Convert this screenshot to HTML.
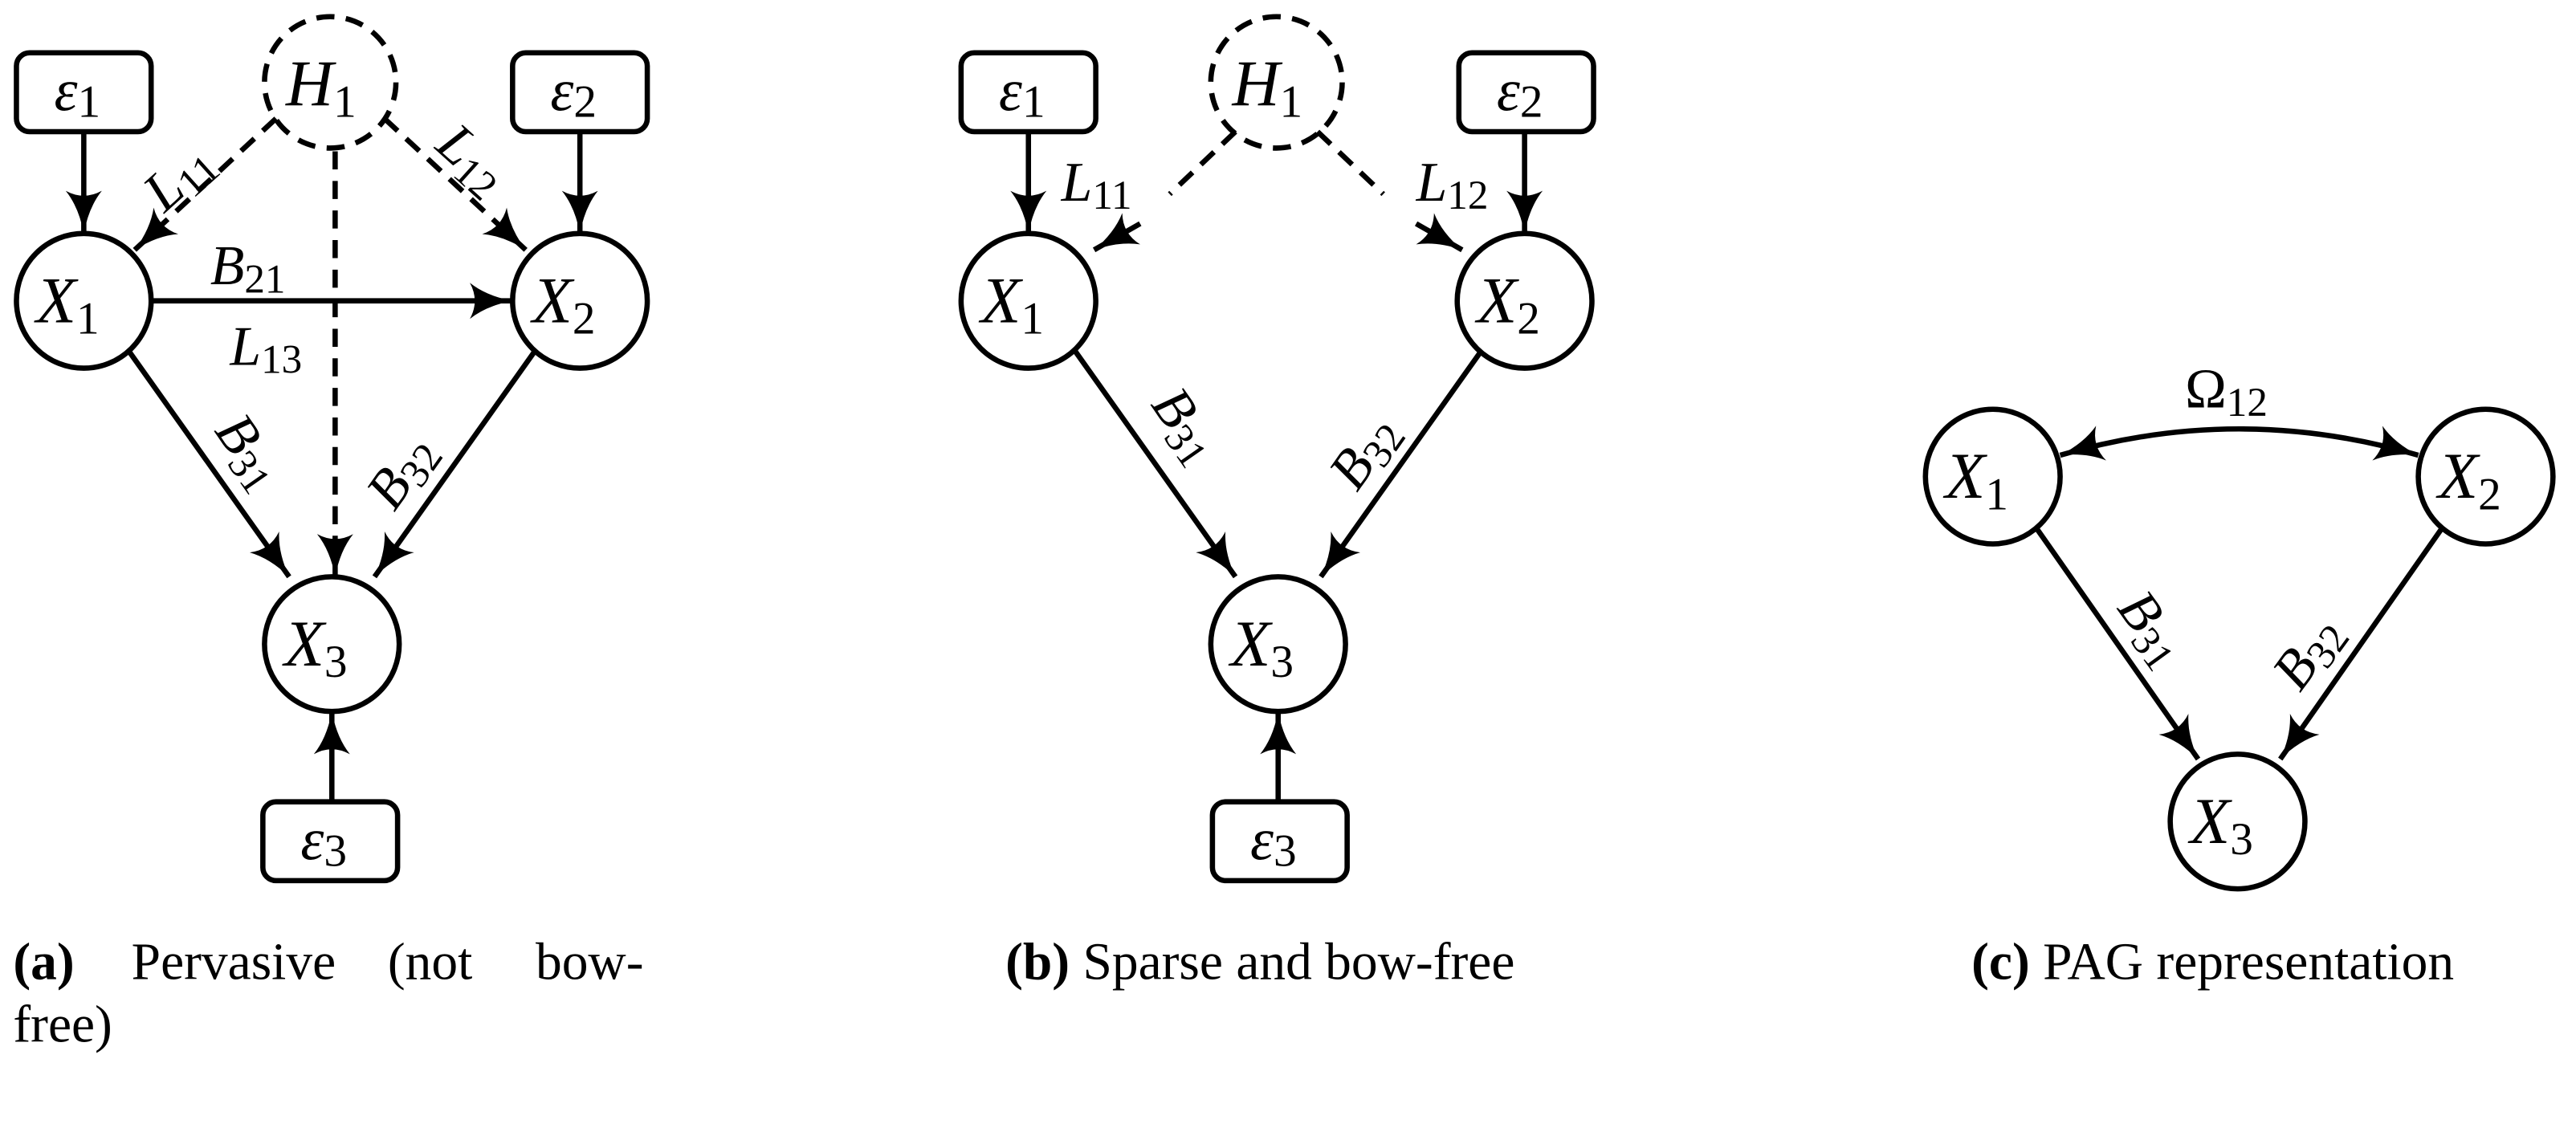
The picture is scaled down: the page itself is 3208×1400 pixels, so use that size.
<!DOCTYPE html>
<html><head><meta charset="utf-8"><style>
html,body{margin:0;padding:0;background:#fff;}
svg{display:block;}
.m{font-family:"Liberation Serif",serif;font-style:italic;font-size:40px;}
.s{font-family:"Liberation Serif",serif;font-style:normal;font-size:28px;}
.e{font-family:"Liberation Serif",serif;font-style:italic;font-size:36px;}
.l{font-family:"Liberation Serif",serif;font-style:italic;font-size:34px;}
.ls{font-family:"Liberation Serif",serif;font-style:normal;font-size:25px;}
.cap{font-family:"Liberation Serif",serif;font-size:32px;}
</style></head><body>
<svg width="3208" height="1400" viewBox="0 0 1568 684" xmlns="http://www.w3.org/2000/svg">
<defs>
<marker id="a" markerUnits="userSpaceOnUse" markerWidth="28" markerHeight="22" refX="26" refY="11" orient="auto">
<path d="M0,0 Q10,8 26,11 Q10,14 0,22 Q6,11 0,0 z" fill="#000"/>
</marker>
<marker id="as" markerUnits="userSpaceOnUse" markerWidth="28" markerHeight="22" refX="0" refY="11" orient="auto">
<path d="M26,0 Q16,8 0,11 Q16,14 26,22 Q20,11 26,0 z" fill="#000"/>
</marker>
</defs>
<g fill="none" stroke="#000" stroke-width="3.2">
<rect x="10" y="32" width="82" height="48" rx="8"/>
<rect x="312" y="32" width="82" height="48" rx="8"/>
<rect x="160" y="488" width="82" height="48" rx="8"/>
<circle cx="201" cy="50" r="40" stroke-dasharray="11,7"/>
<circle cx="51" cy="183" r="41"/>
<circle cx="353" cy="183" r="41"/>
<circle cx="202" cy="392" r="41"/>
<line x1="51" y1="80" x2="51" y2="142" marker-end="url(#a)"/>
<line x1="353" y1="80" x2="353" y2="142" marker-end="url(#a)"/>
<line x1="202" y1="488" x2="202" y2="433" marker-end="url(#a)"/>
<line x1="92" y1="183" x2="312" y2="183" marker-end="url(#a)"/>
<line x1="78" y1="213" x2="176" y2="351" marker-end="url(#a)"/>
<line x1="326" y1="213" x2="228" y2="351" marker-end="url(#a)"/>
<line x1="168" y1="72" x2="82" y2="152" stroke-dasharray="11,7" marker-end="url(#a)"/>
<line x1="234" y1="72" x2="320" y2="152" stroke-dasharray="11,7" marker-end="url(#a)"/>
<line x1="204" y1="92" x2="204" y2="351" stroke-dasharray="11,7" marker-end="url(#a)"/>
<rect x="585" y="32" width="82" height="48" rx="8"/>
<rect x="888" y="32" width="82" height="48" rx="8"/>
<rect x="738" y="488" width="82" height="48" rx="8"/>
<circle cx="777" cy="50" r="40" stroke-dasharray="11,7"/>
<circle cx="626" cy="183" r="41"/>
<circle cx="928" cy="183" r="41"/>
<circle cx="778" cy="392" r="41"/>
<line x1="626" y1="80" x2="626" y2="142" marker-end="url(#a)"/>
<line x1="928" y1="80" x2="928" y2="142" marker-end="url(#a)"/>
<line x1="778" y1="488" x2="778" y2="433" marker-end="url(#a)"/>
<line x1="654" y1="213" x2="752" y2="351" marker-end="url(#a)"/>
<line x1="902" y1="213" x2="804" y2="351" marker-end="url(#a)"/>
<line x1="752" y1="80" x2="712" y2="118" stroke-dasharray="11,7"/>
<line x1="802" y1="80" x2="842" y2="118" stroke-dasharray="11,7"/>
<path d="M694,136 L666,152" marker-end="url(#a)"/>
<path d="M862,136 L890,152" marker-end="url(#a)"/>
<circle cx="1213" cy="290" r="41"/>
<circle cx="1513" cy="290" r="41"/>
<circle cx="1362" cy="500" r="41"/>
<path d="M1254,277 Q1363,245 1472,277" marker-start="url(#as)" marker-end="url(#a)"/>
<line x1="1240" y1="322" x2="1338" y2="462" marker-end="url(#a)"/>
<line x1="1486" y1="322" x2="1388" y2="462" marker-end="url(#a)"/>
</g>
<g fill="#000">
<text x="33" y="67" class="e">ε<tspan class="s" dy="4">1</tspan></text>
<text x="335" y="67" class="e">ε<tspan class="s" dy="4">2</tspan></text>
<text x="183" y="523" class="e">ε<tspan class="s" dy="4">3</tspan></text>
<text x="174" y="64" class="m">H<tspan class="s" dy="7">1</tspan></text>
<text x="22" y="196" class="m">X<tspan class="s" dy="7">1</tspan></text>
<text x="324" y="196" class="m">X<tspan class="s" dy="7">2</tspan></text>
<text x="173" y="405" class="m">X<tspan class="s" dy="7">3</tspan></text>
<text x="128" y="173" class="l">B<tspan class="ls" dy="5">21</tspan></text>
<text x="140" y="222" class="l">L<tspan class="ls" dy="5">13</tspan></text>
<text class="l" transform="translate(100,130) rotate(-42)">L<tspan class="ls" dy="5">11</tspan></text>
<text class="l" transform="translate(264,90) rotate(42)">L<tspan class="ls" dy="5">12</tspan></text>
<text class="l" transform="translate(130,262) rotate(55)">B<tspan class="ls" dy="5">31</tspan></text>
<text class="l" transform="translate(240,312) rotate(-55)">B<tspan class="ls" dy="5">32</tspan></text>
<text x="608" y="67" class="e">ε<tspan class="s" dy="4">1</tspan></text>
<text x="911" y="67" class="e">ε<tspan class="s" dy="4">2</tspan></text>
<text x="761" y="523" class="e">ε<tspan class="s" dy="4">3</tspan></text>
<text x="750" y="64" class="m">H<tspan class="s" dy="7">1</tspan></text>
<text x="597" y="196" class="m">X<tspan class="s" dy="7">1</tspan></text>
<text x="899" y="196" class="m">X<tspan class="s" dy="7">2</tspan></text>
<text x="749" y="405" class="m">X<tspan class="s" dy="7">3</tspan></text>
<text x="646" y="122" class="l">L<tspan class="ls" dy="5">11</tspan></text>
<text x="862" y="122" class="l">L<tspan class="ls" dy="5">12</tspan></text>
<text class="l" transform="translate(700,246) rotate(55)">B<tspan class="ls" dy="5">31</tspan></text>
<text class="l" transform="translate(826,300) rotate(-55)">B<tspan class="ls" dy="5">32</tspan></text>
<text x="1184" y="303" class="m">X<tspan class="s" dy="7">1</tspan></text>
<text x="1484" y="303" class="m">X<tspan class="s" dy="7">2</tspan></text>
<text x="1333" y="513" class="m">X<tspan class="s" dy="7">3</tspan></text>
<text x="1330" y="248" class="s" style="font-size:34px">Ω<tspan class="ls" dy="5">12</tspan></text>
<text class="l" transform="translate(1288,370) rotate(54)">B<tspan class="ls" dy="5">31</tspan></text>
<text class="l" transform="translate(1400,422) rotate(-54)">B<tspan class="ls" dy="5">32</tspan></text>
<text class="cap" y="596"><tspan x="8" font-weight="bold">(a)</tspan><tspan x="80">Pervasive</tspan><tspan x="236">(not</tspan><tspan x="326">bow-</tspan></text>
<text class="cap" x="8" y="634">free)</text>
<text class="cap" x="612" y="596"><tspan font-weight="bold">(b)</tspan> Sparse and bow-free</text>
<text class="cap" x="1200" y="596"><tspan font-weight="bold">(c)</tspan> PAG representation</text>
</g>
</svg>
</body></html>
